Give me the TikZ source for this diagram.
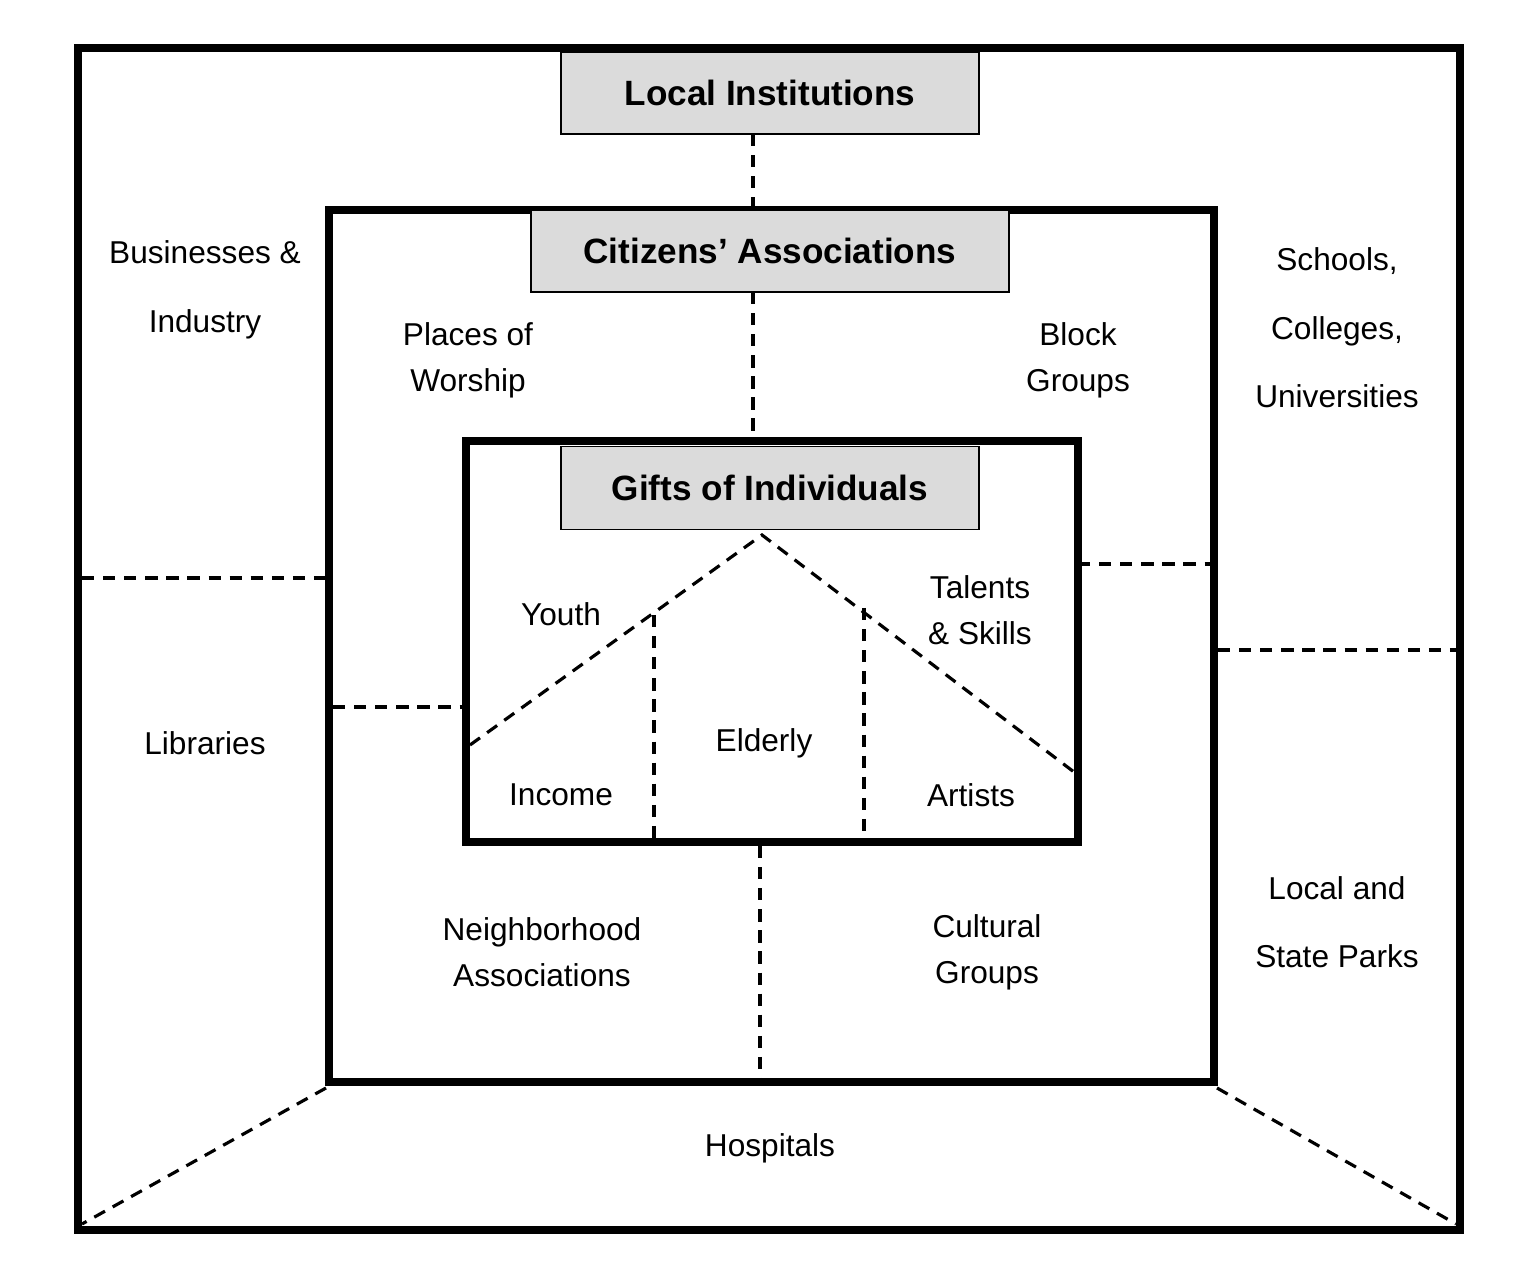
\documentclass[tikz,border=0pt]{standalone}
\usepackage{fontspec}
\setmainfont{Liberation Sans}
\begin{document}
\begin{tikzpicture}[x=0.02cm,y=-0.02cm,
 frame/.style={line width=4.6pt},
 dsh/.style={line width=1.8pt,dash pattern=on 7pt off 5pt},
 hdr/.style={draw,line width=0.8pt,fill=gray!28,font=\fontsize{20}{24}\selectfont\bfseries},
 lbl/.style={font=\fontsize{18}{26}\selectfont,align=center},
 lbw/.style={font=\fontsize{18}{39}\selectfont,align=center}]
\useasboundingbox (0,0) rectangle (1536,1287);
\draw[frame] (78,48) rectangle (1460,1230);
\draw[frame] (329,210) rectangle (1214,1082);
\draw[frame] (466,441) rectangle (1078,842);
% dashed
\draw[dsh] (753,134)--(753,210);
\draw[dsh] (753,292)--(753,441);
\draw[dsh] (82,578)--(329,578);
\draw[dsh] (333,707)--(466,707);
\draw[dsh] (1078,564)--(1214,564);
\draw[dsh] (1218,650)--(1456,650);
\draw[dsh] (760,846)--(760,1082);
\draw[dsh] (326,1088)--(82,1224);
\draw[dsh] (1217,1088)--(1456,1224);
\draw[dsh] (470,745)--(762,535)--(1074,772);
\draw[dsh] (654,615)--(654,838);
\draw[dsh] (864,608)--(864,838);
% headers
\node[hdr,minimum width=8.36cm,minimum height=1.64cm] (li) at (770,93) {Local Institutions};
\node[hdr,minimum width=9.56cm,minimum height=1.64cm] (ca) at (770,251) {Citizens' Associations};
\node[hdr,minimum width=8.36cm,minimum height=1.66cm] (gi) at (770,488) {Gifts of Individuals};
% outer labels
\node[lbw] (bi) at (205,290) {Businesses \&\\Industry};
\node[lbw] (sc) at (1337,328) {Schools,\\Colleges,\\Universities};
\node[lbl] (lib) at (205,743) {Libraries};
\node[lbw] (pk) at (1337,922) {Local and\\State Parks};
\node[lbl] (hos) at (770,1148) {Hospitals};
% middle labels
\node[lbl] (pw) at (468,360) {Places of\\Worship};
\node[lbl] (bg) at (1078,360) {Block\\Groups};
\node[lbl] (na) at (542,952) {Neighborhood\\Associations};
\node[lbl] (cg) at (987,952) {Cultural\\Groups};
% inner labels
\node[lbl] (y) at (561,614) {Youth};
\node[lbl] (ts) at (980,610) {Talents\\\& Skills};
\node[lbl] (el) at (764,743) {Elderly};
\node[lbl] (in) at (561,795) {Income};
\node[lbl] (ar) at (971,795) {Artists};
\end{tikzpicture}
\end{document}
